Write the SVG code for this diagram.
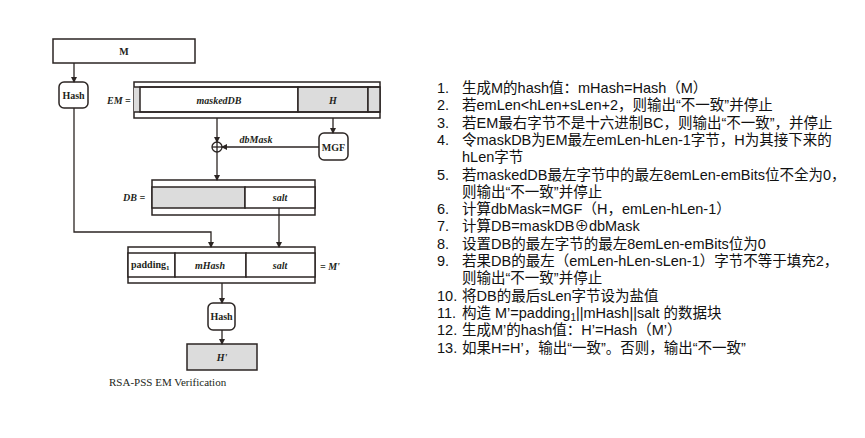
<svg xmlns="http://www.w3.org/2000/svg" width="865" height="438" viewBox="0 0 865 438">
<defs>
<marker id="ar" markerWidth="6" markerHeight="6" refX="5" refY="3" orient="auto" markerUnits="userSpaceOnUse"><path d="M0,0 L6,3 L0,6 z" fill="#2b2523"/></marker>
<style>
.b{fill:#fff;stroke:#2b2523;stroke-width:1.5}
.g{fill:#dcdcdc;stroke:#2b2523;stroke-width:1.5}
.l{fill:none;stroke:#2b2523;stroke-width:1.3}
.t{font-family:"Liberation Serif",serif;font-size:10px;font-weight:bold;fill:#231f20}
.i{font-style:italic}
.c{font-family:"Liberation Sans","Noto Sans CJK SC",sans-serif;font-size:14.5px;fill:#111}
</style>
</defs>
<rect width="865" height="438" fill="#fff"/>
<g id="M"><rect class="b" x="53" y="39" width="142" height="24"/><text class="t" x="124" y="55" text-anchor="middle">M</text></g>
<g id="hash1"><rect class="b" x="59" y="82" width="29" height="26" rx="5"/><text class="t" x="73.5" y="99" text-anchor="middle">Hash</text></g>
<g id="EM">
<text class="t i" x="107" y="104">EM =</text>
<rect class="b" x="134" y="82" width="246" height="36"/>
<rect class="g" x="134" y="87" width="6" height="25" style="stroke:none"/>
<rect class="b" x="140" y="87" width="158" height="25"/>
<rect class="g" x="298" y="87" width="70" height="25"/>
<rect class="g" x="368" y="87" width="12" height="25"/>
<line class="l" x1="134" y1="87" x2="380" y2="87"/><line class="l" x1="134" y1="112" x2="380" y2="112"/>
<text class="t i" x="219" y="104" text-anchor="middle">maskedDB</text>
<text class="t i" x="333" y="104" text-anchor="middle">H</text>
</g>
<g id="MGF"><rect class="b" x="319" y="133" width="29" height="27" rx="5"/><text class="t" x="333.5" y="151" text-anchor="middle">MGF</text></g>
<g id="xor"><circle class="l" cx="217" cy="147" r="5"/><line class="l" x1="212" y1="147" x2="222" y2="147"/><line class="l" x1="217" y1="142" x2="217" y2="152"/></g>
<g id="DB">
<text class="t i" x="123" y="201">DB =</text>
<rect class="b" x="152" y="180" width="163" height="35"/>
<rect class="g" x="152" y="187" width="93" height="21"/>
<rect class="b" x="245" y="187" width="70" height="21"/>
<text class="t i" x="280" y="201" text-anchor="middle">salt</text>
</g>
<g id="Mp">
<rect class="b" x="128" y="247" width="187" height="36"/>
<rect class="b" x="128" y="253" width="47" height="24"/>
<rect class="b" x="175" y="253" width="71" height="24"/>
<rect class="b" x="246" y="253" width="69" height="24"/>
<text class="t" x="131" y="268">padding<tspan font-size="7" dy="2">1</tspan></text>
<text class="t i" x="210" y="269" text-anchor="middle">mHash</text>
<text class="t i" x="280" y="269" text-anchor="middle">salt</text>
<text class="t i" x="320" y="270">= M'</text>
</g>
<g id="hash2"><rect class="b" x="208" y="303" width="27" height="27" rx="5"/><text class="t" x="221.5" y="320" text-anchor="middle">Hash</text></g>
<g id="Hp"><rect class="g" x="187" y="344" width="70" height="26"/><text class="t i" x="222" y="361" text-anchor="middle">H'</text></g>
<text x="109" y="386" font-family="Liberation Serif,serif" font-size="11" fill="#231f20">RSA-PSS EM Verification</text>
<g id="connectors">
<path class="l" d="M74,63 V82" marker-end="url(#ar)"/>
<path class="l" d="M217,118 V142" marker-end="url(#ar)"/>
<path class="l" d="M333,118 V133" marker-end="url(#ar)"/>
<path class="l" d="M319,147 H222" marker-end="url(#ar)"/>
<text class="t i" x="256" y="143" text-anchor="middle">dbMask</text>
<path class="l" d="M217,152 V180" marker-end="url(#ar)"/>
<path class="l" d="M74,108 V232 H211 V247" marker-end="url(#ar)"/>
<path class="l" d="M279,208 V247" marker-end="url(#ar)"/>
<path class="l" d="M222,283 V303" marker-end="url(#ar)"/>
<path class="l" d="M222,330 V344" marker-end="url(#ar)"/>
</g>
<g id="steps" class="c">
<text x="437" y="93">1.</text><text x="462" y="93">生成M的hash值：mHash=Hash（M）</text>
<text x="437" y="110.3">2.</text><text x="462" y="110.3">若emLen&lt;hLen+sLen+2，则输出“不一致”并停止</text>
<text x="437" y="127.6">3.</text><text x="462" y="127.6">若EM最右字节不是十六进制BC，则输出“不一致”，并停止</text>
<text x="437" y="144.9">4.</text><text x="462" y="144.9">令maskDB为EM最左emLen-hLen-1字节，H为其接下来的</text>
<text x="462" y="162.2">hLen字节</text>
<text x="437" y="179.5">5.</text><text x="462" y="179.5">若maskedDB最左字节中的最左8emLen-emBits位不全为0，</text>
<text x="462" y="196.8">则输出“不一致”并停止</text>
<text x="437" y="214.1">6.</text><text x="462" y="214.1">计算dbMask=MGF（H，emLen-hLen-1）</text>
<text x="437" y="231.4">7.</text><text x="462" y="231.4">计算DB=maskDB⊕dbMask</text>
<text x="437" y="248.7">8.</text><text x="462" y="248.7">设置DB的最左字节的最左8emLen-emBits位为0</text>
<text x="437" y="266">9.</text><text x="462" y="266">若果DB的最左（emLen-hLen-sLen-1）字节不等于填充2，</text>
<text x="462" y="283.3">则输出“不一致”并停止</text>
<text x="437" y="300.6">10.</text><text x="462" y="300.6">将DB的最后sLen字节设为盐值</text>
<text x="437" y="317.9">11.</text><text x="462" y="317.9">构造 M’=padding<tspan font-size="10" dy="3">1</tspan><tspan dy="-3">||mHash||salt 的数据块</tspan></text>
<text x="437" y="335.2">12.</text><text x="462" y="335.2">生成M’的hash值：H’=Hash（M’）</text>
<text x="437" y="352.5">13.</text><text x="462" y="352.5">如果H=H’，输出“一致”。否则，输出“不一致”</text>
</g>
</svg>
